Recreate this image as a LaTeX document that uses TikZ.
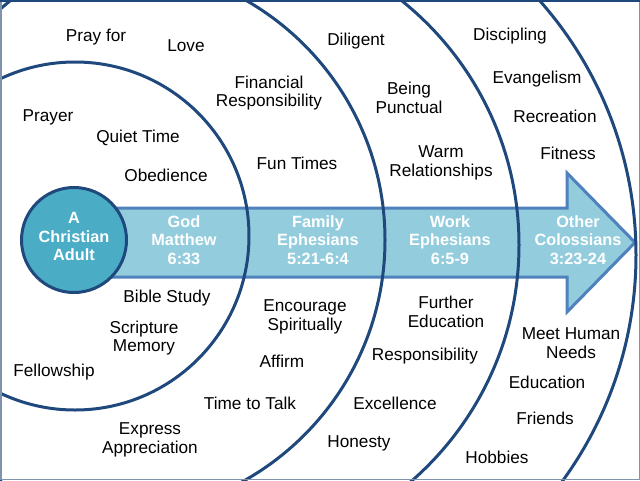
\documentclass[tikz,border=0pt]{standalone}
\usepackage{fontspec}
\setmainfont{Liberation Sans}
\definecolor{navy}{HTML}{1F497D}
\definecolor{aqua}{HTML}{4BACC6}
\definecolor{aqualight}{HTML}{93CDDD}
\definecolor{arrowline}{HTML}{4F81BD}
\definecolor{framecol}{HTML}{7F93AD}
\begin{document}
\begin{tikzpicture}[x=1pt,y=-1pt,
            ring/.style={draw=navy,line width=3pt},
            word/.style={align=center,inner sep=0pt,font=\fontsize{17.2}{18.8}\selectfont},
            verse/.style={align=center,inner sep=0pt,text=white,font=\bfseries\fontsize{16.3}{18.5}\selectfont}]
            \useasboundingbox (0,0) rectangle (640,480);
            \fill[white] (0,0) rectangle (640,480);
            % the big arrow
            \draw[fill=aqualight,draw=arrowline,line width=3pt] (110,208) -- (567,208) -- (567,173) -- (635,242.5) -- (567,312) -- (567,277) -- (110,277) -- cycle;
            % the rings
            \begin{scope}
            \clip (0,0) rectangle (640,480);
            \draw[ring] (75,236) circle[radius=174];
            \draw[ring] (109,240) circle[radius=276];
            \draw[ring] (206,245) circle[radius=313];
            \draw[ring] (252,255) circle[radius=384];
            \end{scope}
            \draw[framecol,line width=1.5pt] (0.75,0.75) rectangle (639.25,479.25);
            \draw[navy,line width=1.5pt] (0,0.75) -- (640,0.75);
            \node[circle,draw=navy,fill=aqua,line width=3pt,minimum size=105pt] (adult) at (74,240) {};
            \node[verse] (a0) at ([yshift=3.5pt]adult.center) {A\\Christian\\Adult};
            \node[verse] (v0) at (184,240) {God\\Matthew\\6:33};
            \node[verse] (v1) at (318,240) {Family\\Ephesians\\5:21-6:4};
            \node[verse] (v2) at (450,240) {Work\\Ephesians\\6:5-9};
            \node[verse] (v3) at (578,240) {Other\\Colossians\\3:23-24};
            \node[word] (t0) at (96,37) {Pray for};
            \node[word] (t1) at (186,46) {Love};
            \node[word] (t2) at (356,41) {Diligent};
            \node[word] (t3) at (510,36) {Discipling};
            \node[word] (t4) at (269,93) {Financial\\Responsibility};
            \node[word] (t5) at (409,98) {Being\\Punctual};
            \node[word] (t6) at (537,79) {Evangelism};
            \node[word] (t7) at (48,117) {Prayer};
            \node[word] (t8) at (555,116) {Recreation};
            \node[word] (t9) at (138,138) {Quiet Time};
            \node[word] (t10) at (297,163) {Fun Times};
            \node[word] (t11) at (441,163) {Warm\\Relationships};
            \node[word] (t12) at (568,153) {Fitness};
            \node[word] (t13) at (166,175) {Obedience};
            \node[word] (t14) at (167,298) {Bible Study};
            \node[word] (t15) at (305,317) {Encourage\\Spiritually};
            \node[word] (t16) at (446,312) {Further\\Education};
            \node[word] (t17) at (144,338) {Scripture\\Memory};
            \node[word] (t18) at (571,343) {Meet Human\\Needs};
            \node[word] (t19) at (282,361) {Affirm};
            \node[word] (t20) at (425,356) {Responsibility};
            \node[word] (t21) at (54,372) {Fellowship};
            \node[word] (t22) at (547,382) {Education};
            \node[word] (t23) at (250,403) {Time to Talk};
            \node[word] (t24) at (395,403) {Excellence};
            \node[word] (t25) at (150,440) {Express\\Appreciation};
            \node[word] (t26) at (545,418) {Friends};
            \node[word] (t27) at (359,443) {Honesty};
            \node[word] (t28) at (497,457) {Hobbies};
            \end{tikzpicture}
\end{document}
